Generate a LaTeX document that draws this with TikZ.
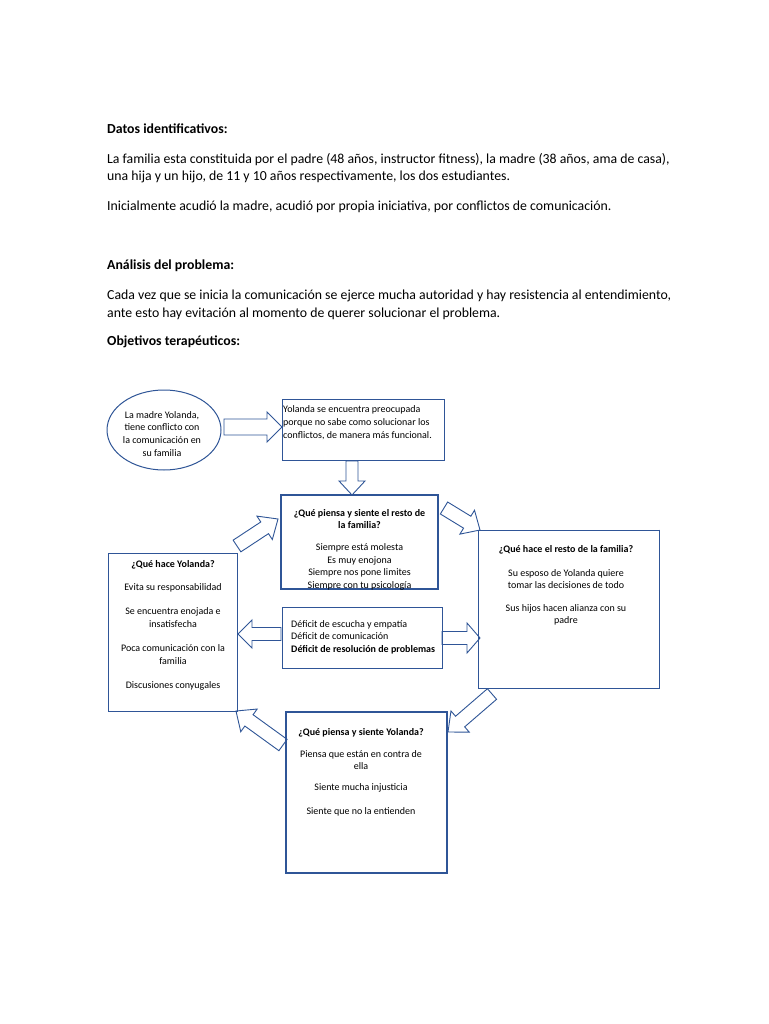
\documentclass[tikz,border=0pt]{standalone}
\usepackage{fontspec}
\setmainfont{Carlito}
\usetikzlibrary{calc,shapes.geometric}
\definecolor{bblue}{HTML}{2F5597}
\newcommand\blockarrow[5]{%
  \draw[barrowstyle] ($(#1)!#3!90:(#2)$) -- ($(#2)!#5!(#1)!#3!-90:(#1)$) -- ($(#2)!#5!(#1)!#4!-90:(#1)$) -- (#2)
    -- ($(#2)!#5!(#1)!#4!90:(#1)$) -- ($(#2)!#5!(#1)!#3!90:(#1)$) -- ($(#1)!#3!-90:(#2)$) -- cycle;}
\begin{document}
\begin{tikzpicture}[x=1pt,y=-1pt,
  box/.style={draw=bblue, line width=0.9pt, rectangle, inner sep=0pt},
  thickbox/.style={box, line width=1.7pt},
  barrowstyle/.style={draw=bblue, line width=0.9pt, fill=white, line join=miter},
  head/.style={font=\fontsize{13.8}{17}\selectfont, anchor=base west, inner sep=0pt},
  txt/.style={font=\fontsize{10}{12.5}\selectfont, inner sep=0pt, align=center, anchor=north},
  ltxt/.style={font=\fontsize{10}{12.5}\selectfont, inner sep=0pt, align=left, anchor=north west}]
\useasboundingbox[fill=white] (0,0) rectangle (768,1024);

% header text
\node[head] (h1) at (107,134) {\textbf{Datos identificativos:}};
\node[head] (h2) at (107,164) {La familia esta constituida por el padre (48 años, instructor fitness), la madre (38 años, ama de casa),};
\node[head] (h3) at (107,181) {una hija y un hijo, de 11 y 10 años respectivamente, los dos estudiantes.};
\node[head] (h4) at (107,211) {Inicialmente acudió la madre, acudió por propia iniciativa, por conflictos de comunicación.};
\node[head] (h5) at (107,269) {\textbf{Análisis del problema:}};
\node[head] (h6) at (107,299) {Cada vez que se inicia la comunicación se ejerce mucha autoridad y hay resistencia al entendimiento,};
\node[head] (h7) at (107,317) {ante esto hay evitación al momento de querer solucionar el problema.};
\node[head] (h8) at (107,345) {\textbf{Objetivos terapéuticos:}};

% arrow end points
\coordinate (a1t) at (224,427); \coordinate (a1h) at (282,427);
\coordinate (a2t) at (352,461); \coordinate (a2h) at (352,495);
\coordinate (a3t) at (237,546); \coordinate (a3h) at (278,519);
\coordinate (a4t) at (444,508); \coordinate (a4h) at (480,530);
\coordinate (a5t) at (281,634); \coordinate (a5h) at (238,634);
\coordinate (a6t) at (442,638); \coordinate (a6h) at (480,638);
\coordinate (a7t) at (492,694); \coordinate (a7h) at (448,732);
\coordinate (a8t) at (283,745); \coordinate (a8h) at (236,711);

\blockarrow{a1t}{a1h}{8pt}{15pt}{15pt}
\blockarrow{a2t}{a2h}{6pt}{13pt}{14pt}
\blockarrow{a3t}{a3h}{7pt}{14pt}{16pt}
\blockarrow{a4t}{a4h}{7pt}{14pt}{15pt}
\blockarrow{a5t}{a5h}{6.5pt}{14pt}{14pt}
\blockarrow{a6t}{a6h}{6.5pt}{15pt}{13pt}
\blockarrow{a7t}{a7h}{7pt}{14pt}{16pt}
\blockarrow{a8t}{a8h}{7pt}{14pt}{16pt}

% shapes
\node[ellipse, draw=bblue, line width=1pt, minimum width=114pt, minimum height=80pt, inner sep=0pt] (ell) at (164,430) {};
\node[box, minimum width=162pt, minimum height=61pt] (b1) at (363,429.5) {};
\node[thickbox, minimum width=157pt, minimum height=94pt] (b2) at (359.5,542) {};
\node[box, minimum width=129pt, minimum height=158pt] (bl) at (172.5,632) {};
\node[box, minimum width=160pt, minimum height=61pt] (bm) at (362,637.5) {};
\node[box, minimum width=181pt, minimum height=158pt] (br) at (568.5,609) {};
\draw[bblue, line width=1.7pt] (br.north east) -- (br.south east);
\node[thickbox, minimum width=161pt, minimum height=161pt] (bb) at (366.5,792.5) {};

% texts
\node[txt, font=\fontsize{10}{12.7}\selectfont] (et) at (162,411) {La madre Yolanda,\\tiene conflicto con\\la comunicación en\\su familia};
\node[ltxt, font=\fontsize{10}{13}\selectfont] (b1t) at (283,405) {Yolanda se encuentra preocupada\\porque no sabe como solucionar los\\conflictos, de manera más funcional.};
\node[txt] (b2t) at (359.5,509) {\textbf{¿Qué piensa y siente el resto de}\\\textbf{la familia?}\\[9.5pt]Siempre está molesta\\Es muy enojona\\Siempre nos pone limites\\Siempre con tu psicología};
\node[txt, font=\fontsize{10}{13.5}\selectfont] (blt) at (173,560) {\textbf{¿Qué hace Yolanda?}\\[10pt]Evita su responsabilidad\\[10pt]Se encuentra enojada e\\insatisfecha\\[10pt]Poca comunicación con la\\familia\\[10pt]Discusiones conyugales};
\node[ltxt] (bmt) at (291,620) {Déficit de escucha y empatía\\Déficit de comunicación\\\textbf{Déficit de resolución de problemas}};
\node[txt, font=\fontsize{10}{12}\selectfont] (brt) at (566,545) {\textbf{¿Qué hace el resto de la familia?}\\[12pt]Su esposo de Yolanda quiere\\tomar las decisiones de todo\\[11pt]Sus hijos hacen alianza con su\\padre};
\node[txt, font=\fontsize{10}{12.5}\selectfont] (bbt) at (361,728) {\textbf{¿Qué piensa y siente Yolanda?}\\[9.5pt]Piensa que están en contra de\\ella\\[8.5pt]Siente mucha injusticia\\[11pt]Siente que no la entienden};
\end{tikzpicture}
\end{document}
